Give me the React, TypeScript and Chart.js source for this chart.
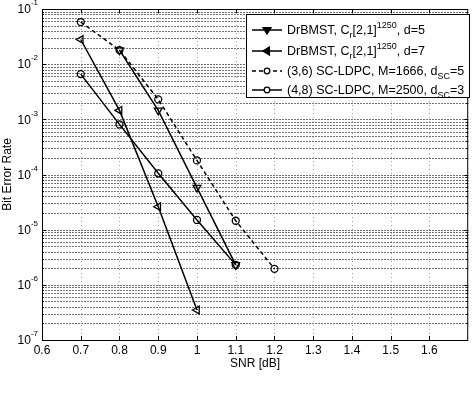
import React, { useEffect, useRef } from "react";
import { Chart, registerables } from "chart.js";

Chart.register(...registerables);

// ---- data ----
const snrD5 = [0.8, 0.9, 1.0, 1.1];
const berD5 = [1.8e-2, 1.45e-3, 5.8e-5, 2.3e-6];
const snrD7 = [0.7, 0.8, 0.9, 1.0];
const berD7 = [2.8e-2, 1.45e-3, 2.6e-5, 3.5e-7];
const snrL36 = [0.7, 0.8, 0.9, 1.0, 1.1, 1.2];
const berL36 = [5.8e-2, 1.8e-2, 2.3e-3, 1.8e-4, 1.45e-5, 1.95e-6];
const snrL48 = [0.7, 0.8, 0.9, 1.0, 1.1];
const berL48 = [6.6e-3, 8.1e-4, 1.05e-4, 1.5e-5, 2.3e-6];

const xTickValues = [0.6, 0.7, 0.8, 0.9, 1.0, 1.1, 1.2, 1.3, 1.4, 1.5, 1.6];
const xTickLabels = ["0.6", "0.7", "0.8", "0.9", "1", "1.1", "1.2", "1.3", "1.4", "1.5", "1.6"];
const yDecadeExps = [-7, -6, -5, -4, -3, -2, -1];
const xTitle = "SNR [dB]";
const yTitle = "Bit Error Rate";

type Seg = { t: string; m: "n" | "sub" | "sup" };
const legendRows: { segs: Seg[]; marker: string; dashed: boolean }[] = [
  {
    segs: [
      { t: "DrBMST, C", m: "n" },
      { t: "r", m: "sub" },
      { t: "[2,1]", m: "n" },
      { t: "1250", m: "sup" },
      { t: ", d=5", m: "n" },
    ],
    marker: "down",
    dashed: false,
  },
  {
    segs: [
      { t: "DrBMST, C", m: "n" },
      { t: "r", m: "sub" },
      { t: "[2,1]", m: "n" },
      { t: "1250", m: "sup" },
      { t: ", d=7", m: "n" },
    ],
    marker: "left",
    dashed: false,
  },
  {
    segs: [
      { t: "(3,6) SC-LDPC, M=1666, d", m: "n" },
      { t: "SC", m: "sub" },
      { t: "=5", m: "n" },
    ],
    marker: "circle",
    dashed: true,
  },
  {
    segs: [
      { t: "(4,8) SC-LDPC, M=2500, d", m: "n" },
      { t: "SC", m: "sub" },
      { t: "=3", m: "n" },
    ],
    marker: "circle",
    dashed: false,
  },
];

const FONT = "'Liberation Sans', Arial, Helvetica, sans-serif";
const DASH = [4, 3];

function toPts(xs: number[], ys: number[]) {
  return xs.map((x, i) => ({ x, y: ys[i] }));
}

function drawMarker(ctx: CanvasRenderingContext2D, kind: string, x: number, y: number, r: number, fill: boolean) {
  ctx.beginPath();
  if (kind === "circle") {
    ctx.arc(x, y, r, 0, Math.PI * 2);
  } else if (kind === "down") {
    ctx.moveTo(x - r, y - r * 0.6);
    ctx.lineTo(x + r, y - r * 0.6);
    ctx.lineTo(x, y + r);
    ctx.closePath();
  } else if (kind === "left") {
    ctx.moveTo(x + r * 0.6, y - r);
    ctx.lineTo(x + r * 0.6, y + r);
    ctx.lineTo(x - r, y);
    ctx.closePath();
  }
  if (fill) {
    ctx.fillStyle = "#000";
    ctx.fill();
  }
  ctx.stroke();
}

const decorPlugin = {
  id: "decor",
  beforeDatasetsDraw(chart: any) {
    const { ctx, chartArea: a, scales } = chart;
    const xs = scales.x;
    const ys = scales.y;
    ctx.save();
    // vertical dotted grid
    ctx.strokeStyle = "#a0a0a0";
    ctx.lineWidth = 1;
    ctx.setLineDash([1, 3]);
    xTickValues.forEach((v) => {
      if (v <= 0.6) return;
      const px = Math.round(xs.getPixelForValue(v)) + 0.5;
      ctx.beginPath();
      ctx.moveTo(px, a.top);
      ctx.lineTo(px, a.bottom);
      ctx.stroke();
    });
    // horizontal dashed grid (all log lines)
    ctx.strokeStyle = "#757575";
    ctx.setLineDash([2, 1]);
    yDecadeExps.forEach((e) => {
      for (let m = 1; m <= 9; m++) {
        if (e === -1 && m > 1) break;
        const v = m * Math.pow(10, e);
        const py = Math.round(ys.getPixelForValue(v)) + 0.5;
        if (py <= a.top + 1 || py >= a.bottom - 1) continue;
        ctx.beginPath();
        ctx.moveTo(a.left, py);
        ctx.lineTo(a.right, py);
        ctx.stroke();
      }
    });
    ctx.setLineDash([]);
    // box
    ctx.strokeStyle = "#000";
    ctx.lineWidth = 1;
    ctx.strokeRect(a.left + 0.5, a.top + 0.5, a.right - a.left - 1, a.bottom - a.top);
    // inward tick marks
    ctx.beginPath();
    xTickValues.forEach((v) => {
      const px = Math.round(xs.getPixelForValue(v)) + 0.5;
      ctx.moveTo(px, a.bottom);
      ctx.lineTo(px, a.bottom - 4);
      ctx.moveTo(px, a.top);
      ctx.lineTo(px, a.top + 4);
    });
    yDecadeExps.forEach((e) => {
      for (let m = 1; m <= 9; m++) {
        if (e === -1 && m > 1) break;
        const v = m * Math.pow(10, e);
        const py = Math.round(ys.getPixelForValue(v)) + 0.5;
        const len = m === 1 ? 4 : 2;
        ctx.moveTo(a.left, py);
        ctx.lineTo(a.left + len, py);
        ctx.moveTo(a.right, py);
        ctx.lineTo(a.right - len, py);
      }
    });
    ctx.stroke();
    ctx.restore();
  },
  afterDraw(chart: any) {
    const { ctx, chartArea: a, scales } = chart;
    const xs = scales.x;
    const ys = scales.y;
    ctx.save();
    ctx.fillStyle = "#000";
    // x tick labels
    ctx.font = `12px ${FONT}`;
    ctx.textAlign = "center";
    ctx.textBaseline = "middle";
    xTickValues.forEach((v, i) => {
      ctx.fillText(xTickLabels[i], xs.getPixelForValue(v), a.bottom + 11);
    });
    // x title
    ctx.fillText(xTitle, (a.left + a.right) / 2, a.bottom + 24);
    // y tick labels 10^e
    yDecadeExps.forEach((e) => {
      const py = ys.getPixelForValue(Math.pow(10, e));
      const expStr = String(e);
      ctx.font = `8px ${FONT}`;
      const ew = ctx.measureText(expStr).width;
      const right = 38;
      ctx.textAlign = "left";
      ctx.textBaseline = "middle";
      ctx.fillText(expStr, right - ew, py - 6);
      ctx.font = `12px ${FONT}`;
      ctx.textAlign = "right";
      ctx.fillText("10", right - ew, py + 1);
    });
    // y title
    ctx.save();
    ctx.translate(8, (a.top + a.bottom) / 2);
    ctx.rotate(-Math.PI / 2);
    ctx.font = `12px ${FONT}`;
    ctx.textAlign = "center";
    ctx.textBaseline = "middle";
    ctx.fillText(yTitle, 0, 0);
    ctx.restore();

    // legend
    const bx = 246.5, by = 14.5, bw = 223, bh = 83;
    ctx.fillStyle = "#fff";
    ctx.fillRect(bx, by, bw, bh);
    ctx.strokeStyle = "#000";
    ctx.lineWidth = 1;
    ctx.strokeRect(bx, by, bw, bh);
    const rowY = [30, 51, 71, 90];
    legendRows.forEach((row, i) => {
      const cy = rowY[i];
      ctx.strokeStyle = "#000";
      ctx.lineWidth = 1.5;
      ctx.setLineDash(row.dashed ? DASH : []);
      ctx.beginPath();
      ctx.moveTo(252, cy);
      ctx.lineTo(282, cy);
      ctx.stroke();
      ctx.setLineDash([]);
      ctx.lineWidth = 1.3;
      if (row.marker === "circle") {
        ctx.fillStyle = "#fff";
        ctx.beginPath();
        ctx.arc(267, cy, 2.8, 0, Math.PI * 2);
        ctx.fill();
        drawMarker(ctx, "circle", 267, cy, 2.8, false);
      } else {
        drawMarker(ctx, row.marker, 267, cy, 4, true);
      }
      // text
      let tx = 287;
      const base = cy + 4;
      ctx.fillStyle = "#000";
      ctx.textAlign = "left";
      ctx.textBaseline = "alphabetic";
      row.segs.forEach((s) => {
        if (s.m === "n") {
          ctx.font = `12.5px ${FONT}`;
          ctx.fillText(s.t, tx, base);
        } else if (s.m === "sub") {
          ctx.font = `9px ${FONT}`;
          ctx.fillText(s.t, tx, base + 4);
        } else {
          ctx.font = `9px ${FONT}`;
          ctx.fillText(s.t, tx, base - 6);
        }
        tx += ctx.measureText(s.t).width;
      });
    });
    ctx.restore();
  },
};

export default function App() {
  const ref = useRef<HTMLCanvasElement | null>(null);
  useEffect(() => {
    if (!ref.current) return;
    Chart.defaults.font.family = FONT;
    const common = {
      borderColor: "#000",
      borderWidth: 1.5,
      backgroundColor: "rgba(0,0,0,0)",
      pointBorderColor: "#000",
      pointBackgroundColor: "rgba(0,0,0,0)",
      pointBorderWidth: 1.3,
      tension: 0,
      fill: false,
    };
    const chart = new Chart(ref.current, {
      type: "line",
      data: {
        datasets: [
          {
            ...common,
            label: "DrBMST d=5",
            data: toPts(snrD5, berD5),
            pointStyle: "triangle",
            rotation: 180,
            pointRadius: 4.5,
          },
          {
            ...common,
            label: "DrBMST d=7",
            data: toPts(snrD7, berD7),
            pointStyle: "triangle",
            rotation: -90,
            pointRadius: 4.5,
          },
          {
            ...common,
            label: "(3,6) SC-LDPC",
            data: toPts(snrL36, berL36),
            pointStyle: "circle",
            pointRadius: 3.5,
            borderDash: DASH,
          },
          {
            ...common,
            label: "(4,8) SC-LDPC",
            data: toPts(snrL48, berL48),
            pointStyle: "circle",
            pointRadius: 3.5,
          },
        ],
      },
      options: {
        responsive: false,
        animation: false,
        layout: { padding: { top: 9, left: 0, right: 0, bottom: 0 } },
        plugins: { legend: { display: false }, tooltip: { enabled: false } },
        scales: {
          x: {
            type: "linear",
            min: 0.6,
            max: 1.7,
            grid: { display: false },
            border: { display: false },
            ticks: { display: false, stepSize: 0.1 },
            afterFit: (s: any) => {
              s.height = 58;
            },
          },
          y: {
            type: "logarithmic",
            min: 1e-7,
            max: 1e-1,
            grid: { display: false },
            border: { display: false },
            ticks: { display: false },
            afterFit: (s: any) => {
              s.width = 42;
            },
          },
        },
      },
      plugins: [decorPlugin],
    } as any);
    return () => chart.destroy();
  }, []);
  return (
    <div style={{ position: "fixed", left: 0, top: 0, width: 474, height: 398, background: "#fff" }}>
      <canvas ref={ref} width={474} height={398} style={{ display: "block" }} />
    </div>
  );
}
